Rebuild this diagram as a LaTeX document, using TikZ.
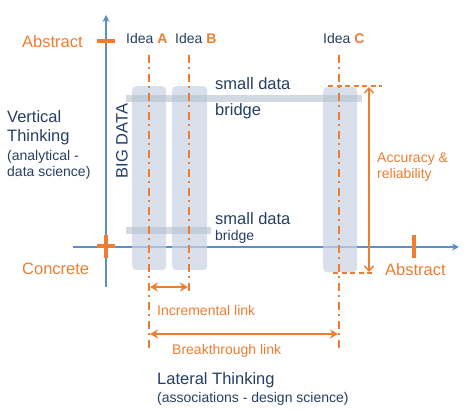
\documentclass[tikz,border=0pt]{standalone}
\usepackage{fontspec}
\setmainfont{Liberation Sans}
\usetikzlibrary{arrows.meta}
\definecolor{org}{HTML}{ED7D31}
\definecolor{axb}{HTML}{5B8FC8}
\definecolor{txb}{HTML}{243F63}
\definecolor{colf}{HTML}{C9D3E2}
\definecolor{barf}{HTML}{B4C0D0}
\tikzset{
  big/.style={font=\fontsize{16.5}{18}\selectfont, inner sep=0pt},
  sml/.style={font=\fontsize{14}{16}\selectfont, inner sep=0pt},
  bluetxt/.style={text=txb},
  orgtxt/.style={text=org},
  axis/.style={draw=axb, line width=1.6pt, -{Stealth[length=7pt,width=7pt]}},
  idealine/.style={draw=org, line width=2.3pt, dash pattern=on 8pt off 4.5pt on 2pt off 4.5pt},
  dashline/.style={draw=org, line width=1.4pt, dash pattern=on 5pt off 3.5pt},
  colbox/.style={fill=colf, fill opacity=0.7, draw=none, rounded corners=4pt},
  barbox/.style={fill=barf, fill opacity=0.6, draw=none},
  tick/.style={draw=org, line width=4pt},
  linkarrow/.style={draw=org, line width=1.8pt, {Stealth[length=8pt,width=9pt]}-{Stealth[length=8pt,width=9pt]}},
  accarrow/.style={draw=org, line width=1.4pt, {Straight Barb[length=5pt,width=9pt]}-{Straight Barb[length=5pt,width=9pt]}}
}
\begin{document}
\begin{tikzpicture}[x=1pt,y=-1pt]
\useasboundingbox (0,0) rectangle (474,411);
% axes
\coordinate (vbot) at (106,287);
\coordinate (vtop) at (106,15);
\coordinate (hleft) at (73,247);
\coordinate (hright) at (459,247);
\draw[axis] (vbot) -- (vtop);
\draw[axis] (hleft) -- (hright);
% columns
\node[colbox, minimum width=34pt, minimum height=184pt, anchor=north west] (colA) at (132,86) {};
\node[colbox, minimum width=35pt, minimum height=184pt, anchor=north west] (colB) at (172,86) {};
\node[colbox, minimum width=34pt, minimum height=185pt, anchor=north west] (colC) at (323,87) {};
% bars
\node[barbox, minimum width=236pt, minimum height=7pt, anchor=west] (bar1) at (126,99) {};
\node[barbox, minimum width=85pt, minimum height=7pt, anchor=west] (bar2) at (126,231) {};
% ticks
\coordinate (t1a) at (97,41); \coordinate (t1b) at (115,41);
\draw[tick] (t1a) -- (t1b);
\coordinate (t2a) at (97,246); \coordinate (t2b) at (115,246);
\coordinate (t2c) at (106,235); \coordinate (t2d) at (106,258);
\draw[tick] (t2a) -- (t2b);
\draw[tick] (t2c) -- (t2d);
\coordinate (t3a) at (414,235); \coordinate (t3b) at (414,258);
\draw[tick] (t3a) -- (t3b);
% idea lines
\coordinate (aTop) at (149,55); \coordinate (aBot) at (149,350);
\coordinate (bTop) at (189,55); \coordinate (bBot) at (189,294);
\coordinate (cTop) at (339,55); \coordinate (cBot) at (339,350);
\draw[idealine] (aTop) -- (aBot);
\draw[idealine] (bTop) -- (bBot);
\draw[idealine] (cTop) -- (cBot);
% dashed guides
\coordinate (dtl) at (328,86); \coordinate (dtr) at (382,86);
\coordinate (dbl) at (333,273); \coordinate (dbr) at (374,273);
\draw[dashline] (dtl) -- (dtr);
\draw[dashline] (dbl) -- (dbr);
\coordinate (accT) at (369,87); \coordinate (accB) at (369,272);
\draw[accarrow] (accT) -- (accB);
% link arrows
\coordinate (incL) at (150,287); \coordinate (incR) at (188,287);
\draw[linkarrow] (incL) -- (incR);
\coordinate (brkL) at (150,334); \coordinate (brkR) at (338,334);
\draw[linkarrow] (brkL) -- (brkR);
% texts
\node[big, orgtxt, anchor=west] (abs1) at (22,42) {Abstract};
\node[big, orgtxt, anchor=west] (conc) at (22,269) {Concrete};
\node[big, orgtxt, anchor=west] (abs2) at (385,270) {Abstract};
\node[sml, bluetxt, anchor=west] (ideaA) at (126,39) {Idea \textcolor{org}{\textbf{A}}};
\node[sml, bluetxt, anchor=west] (ideaB) at (175,39) {Idea \textcolor{org}{\textbf{B}}};
\node[sml, bluetxt, anchor=west] (ideaC) at (323,39) {Idea \textcolor{org}{\textbf{C}}};
\node[big, bluetxt, anchor=west] (sd1) at (215,84) {small data};
\node[big, bluetxt, anchor=west] (br1) at (215,111) {bridge};
\node[big, bluetxt, anchor=west] (sd2) at (215,219) {small data};
\node[sml, bluetxt, anchor=west] (br2) at (215,237) {bridge};
\node[big, bluetxt, rotate=90] (bigdata) at (122,141) {BIG DATA};
\node[sml, orgtxt, anchor=west, align=left] (acc) at (377,167) {Accuracy \&\\reliability};
\node[sml, orgtxt, anchor=west] (inc) at (157,310) {Incremental link};
\node[sml, orgtxt, anchor=west] (brk) at (172,351) {Breakthrough link};
\node[big, bluetxt, anchor=west] (lat) at (157,380) {Lateral Thinking};
\node[sml, bluetxt, anchor=west] (lat2) at (157,399) {(associations - design science)};
\node[big, bluetxt, anchor=west] (vt1) at (7,117) {Vertical};
\node[big, bluetxt, anchor=west] (vt2) at (7,137) {Thinking};
\node[sml, bluetxt, anchor=west] (vt3) at (7,157) {(analytical -};
\node[sml, bluetxt, anchor=west] (vt4) at (7,173) {data science)};
\end{tikzpicture}
\end{document}
